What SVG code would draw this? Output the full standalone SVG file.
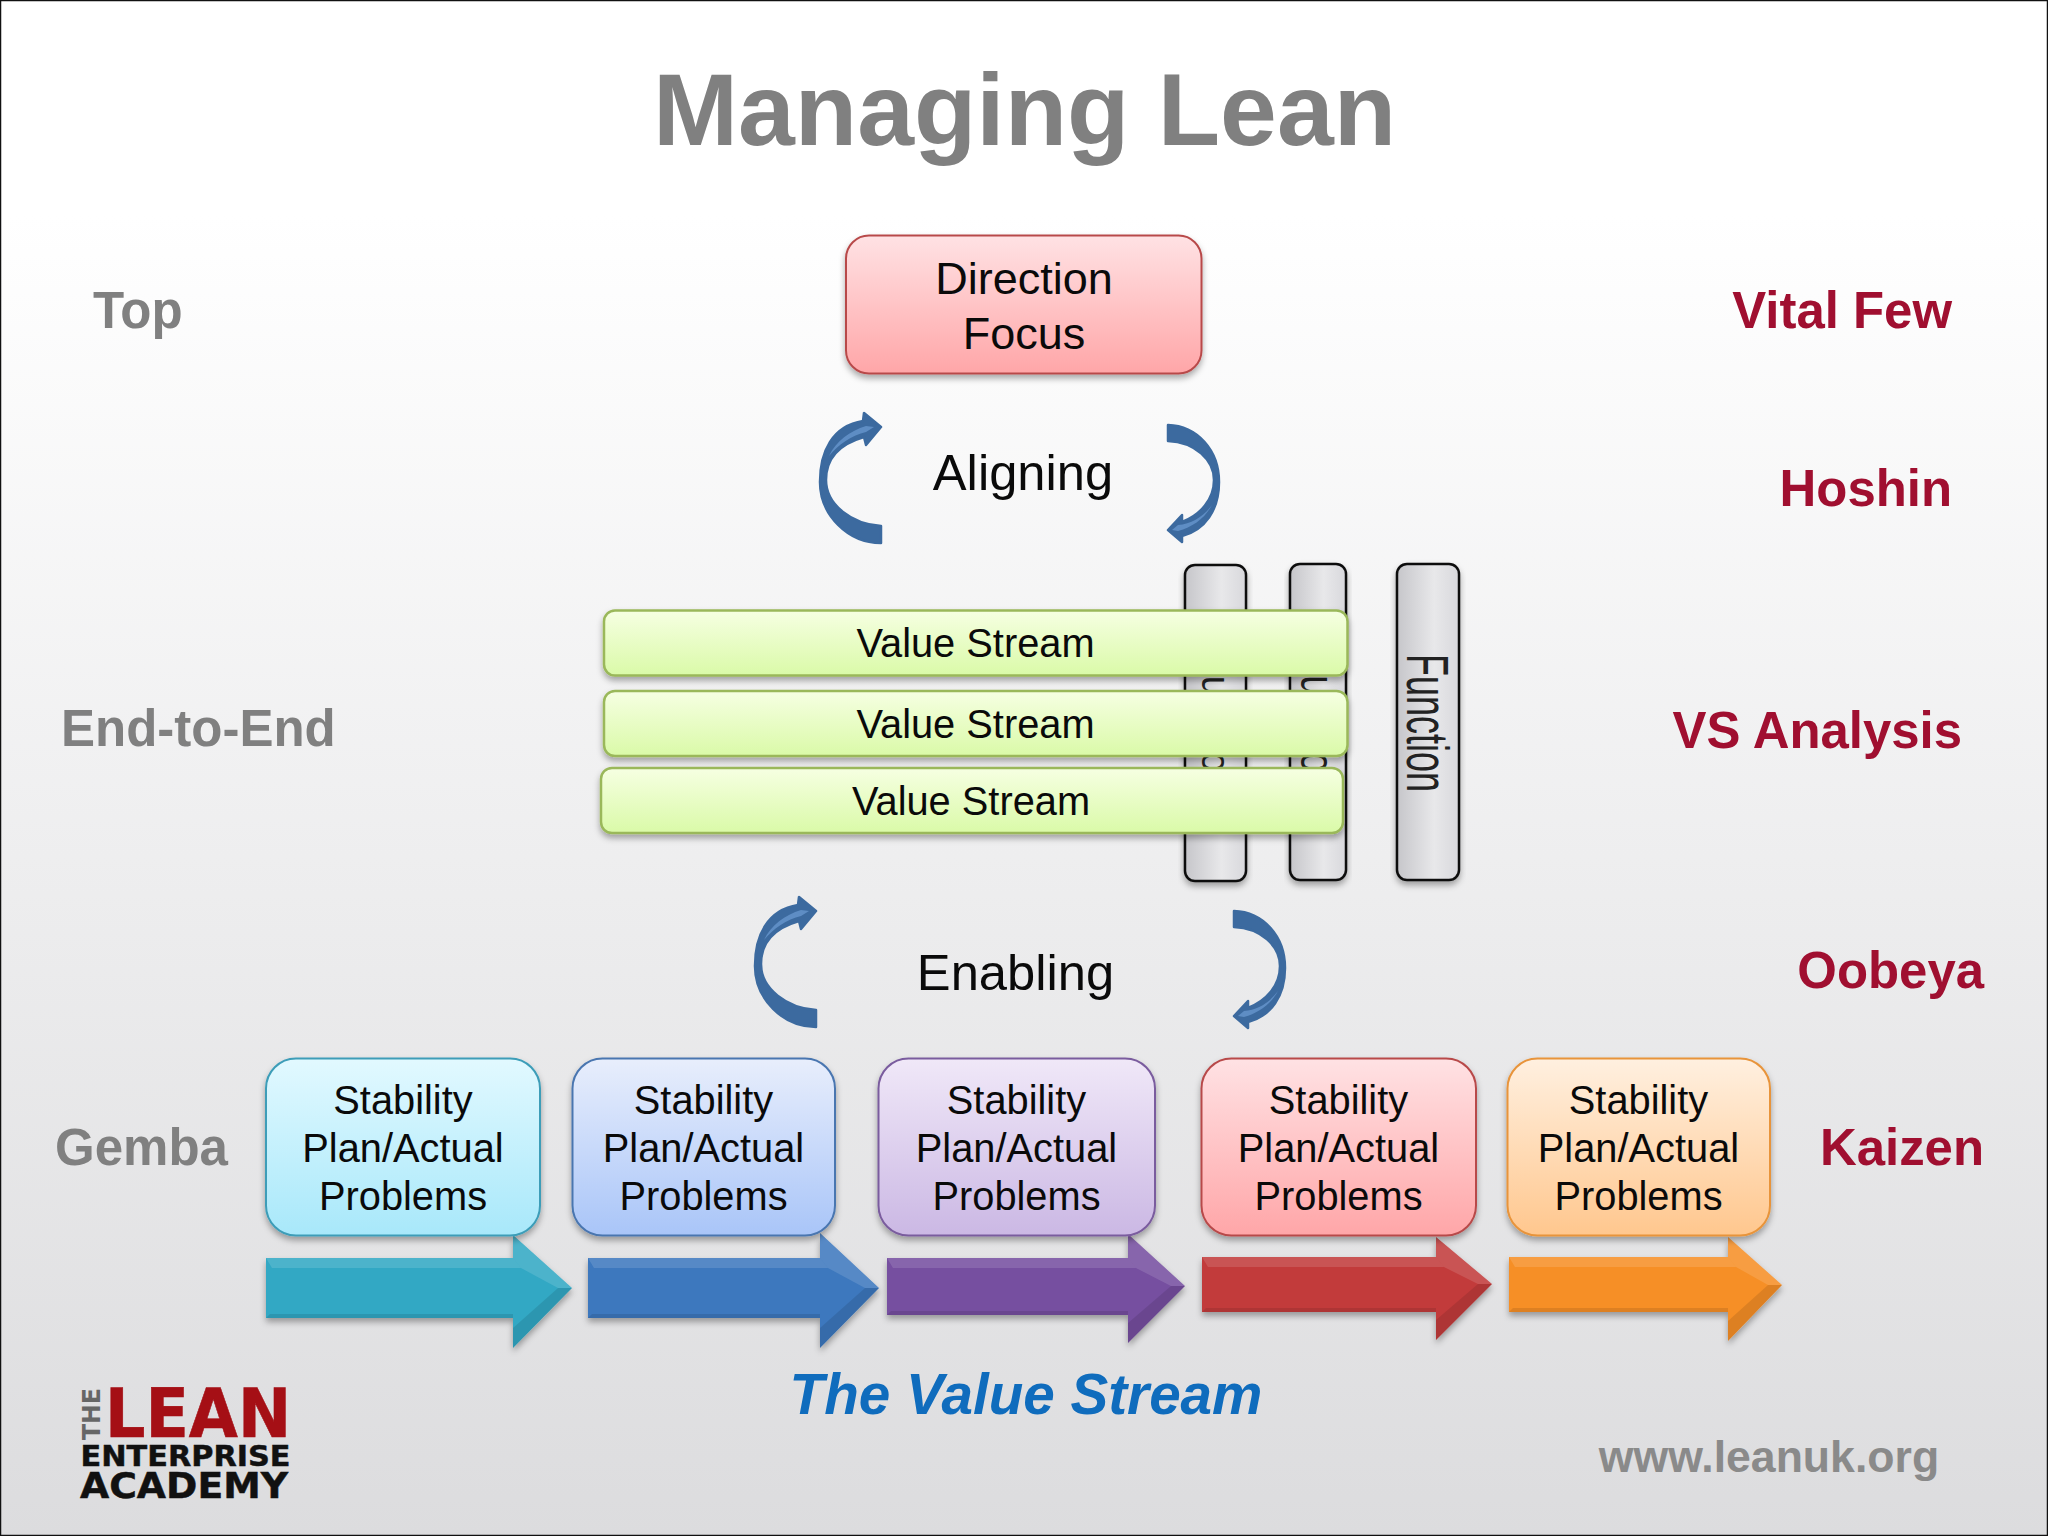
<svg xmlns="http://www.w3.org/2000/svg" width="2048" height="1536" viewBox="0 0 2048 1536">
<style>
text{font-family:"Liberation Sans",Arial,sans-serif}
.lbl{font-size:51px;font-weight:700;fill:#808080}
.rt{font-size:50.9px;font-weight:700;fill:#A00F30;text-anchor:end}
.c{text-anchor:middle;fill:#0a0a0a}
.b44{font-size:45px}
.b50{font-size:50.7px}
.vs{font-size:39.8px}
.st{font-size:39.8px}
.lite{fill:#fff;fill-opacity:.13}
.dark{fill:#000;fill-opacity:.1}
.box{stroke-width:2;filter:url(#sh)}
.fn{fill:#222;text-anchor:middle}
.bar{fill:url(#gGray);stroke:#111;stroke-width:2.5;filter:url(#sh)}
.vsb{fill:url(#gGreen);stroke:#9AB85A;stroke-width:2.5;filter:url(#sh)}
.logo{font-family:"DejaVu Sans","Liberation Sans",sans-serif;font-weight:700}
.arc{fill:#3C6A9F;stroke:#3C6A9F;stroke-width:2.5;stroke-linejoin:round}
.arcl{fill:#5E8DC4}
</style>
<defs>
<linearGradient id="gBg" x1="0" y1="0" x2="0" y2="1"><stop offset=".14" stop-color="#fff"/><stop offset="1" stop-color="#DCDCDE"/></linearGradient>
<linearGradient id="gRed" x1="0" y1="0" x2="0" y2="1"><stop offset="0" stop-color="#FFE2E4"/><stop offset="1" stop-color="#FFA6A8"/></linearGradient>
<linearGradient id="gCyan" x1="0" y1="0" x2="0" y2="1"><stop offset="0" stop-color="#E2F9FF"/><stop offset="1" stop-color="#A8E8FA"/></linearGradient>
<linearGradient id="gBlue" x1="0" y1="0" x2="0" y2="1"><stop offset="0" stop-color="#E8EEFC"/><stop offset="1" stop-color="#A9C5F8"/></linearGradient>
<linearGradient id="gPurple" x1="0" y1="0" x2="0" y2="1"><stop offset="0" stop-color="#F0E8F8"/><stop offset="1" stop-color="#CBB8E4"/></linearGradient>
<linearGradient id="gOrange" x1="0" y1="0" x2="0" y2="1"><stop offset="0" stop-color="#FFF0E0"/><stop offset="1" stop-color="#FFC78E"/></linearGradient>
<linearGradient id="gGreen" x1="0" y1="0" x2="0" y2="1"><stop offset="0" stop-color="#F6FFE2"/><stop offset="1" stop-color="#DAFAA8"/></linearGradient>
<linearGradient id="gGray" x1="0" y1="0" x2="1" y2="0"><stop offset="0" stop-color="#C6C6CA"/><stop offset=".6" stop-color="#E8E8EA"/><stop offset="1" stop-color="#D8D8DC"/></linearGradient>
<filter id="sh" x="-10%" y="-10%" width="120%" height="130%"><feDropShadow dx="0" dy="4" stdDeviation="3" flood-color="#000" flood-opacity=".33"/></filter>
<g id="cw-left">
<path class="arc" d="M881 526C852 524 826 505 826 480C826 462 836 445 864 437L866 445L881 427L864 413L863 421C832 426 820 452 820 482C820 515 848 543 881 543Z"/>
<path class="arcl" d="M829 456C836 441 850 431 866 426L874 427L866 432C852 435 838 445 829 456Z"/>
</g>
<g id="cw-right">
<path class="arc" d="M1168 425C1197 426 1219 450 1219 482C1219 510 1205 530 1182 536L1182 542L1168 530L1182 515L1182 522C1200 515 1214 500 1214 480C1214 460 1195 442 1168 441Z"/>
<path class="arcl" d="M1212 505C1205 518 1193 527 1178 531L1172 530L1178 525C1192 524 1204 516 1212 505Z"/>
</g>
</defs>
<rect id="background" x="0.5" y="0.5" width="2047" height="1535" fill="url(#gBg)" stroke="#111" stroke-width="1.5"/>
<text id="title" x="1024.5" y="145" text-anchor="middle" font-size="102.1" font-weight="700" fill="#808080">Managing Lean</text>

<g id="connectors">
<use href="#cw-left"/>
<use href="#cw-right"/>
<use href="#cw-left" x="-65" y="484"/>
<use href="#cw-right" x="66" y="486"/>
<g id="flow1">
<polygon points="266,1258 513,1258 513,1235 572,1288 513,1348 513,1318 266,1318" fill="#31A8C4" filter="url(#sh)"/>
<polygon class="lite" points="266,1258 513,1258 521,1268 272,1268"/>
<polygon class="lite" points="513,1235 572,1288 558,1288 521,1268 513,1258"/>
<polygon class="dark" points="572,1288 513,1348 513,1328 558,1288"/>
<polygon class="dark" points="266,1318 513,1318 513,1314 270,1314"/>
</g>
<g id="flow2">
<polygon points="588,1258 820,1258 820,1233 879,1288 820,1348 820,1318 588,1318" fill="#3D78BE" filter="url(#sh)"/>
<polygon class="lite" points="588,1258 820,1258 828,1268 594,1268"/>
<polygon class="lite" points="820,1233 879,1288 865,1288 828,1268 820,1258"/>
<polygon class="dark" points="879,1288 820,1348 820,1328 865,1288"/>
<polygon class="dark" points="588,1318 820,1318 820,1314 592,1314"/>
</g>
<g id="flow3">
<polygon points="887,1258 1128,1258 1128,1234 1185,1286 1128,1343 1128,1315 887,1315" fill="#7650A0" filter="url(#sh)"/>
<polygon class="lite" points="887,1258 1128,1258 1136,1268 893,1268"/>
<polygon class="lite" points="1128,1234 1185,1286 1171,1286 1136,1268 1128,1258"/>
<polygon class="dark" points="1185,1286 1128,1343 1128,1323 1171,1286"/>
<polygon class="dark" points="887,1315 1128,1315 1128,1311 891,1311"/>
</g>
<g id="flow4">
<polygon points="1202,1257 1436,1257 1436,1237 1492,1284 1436,1340 1436,1312 1202,1312" fill="#C23B3B" filter="url(#sh)"/>
<polygon class="lite" points="1202,1257 1436,1257 1444,1267 1208,1267"/>
<polygon class="lite" points="1436,1237 1492,1284 1478,1284 1444,1267 1436,1257"/>
<polygon class="dark" points="1492,1284 1436,1340 1436,1320 1478,1284"/>
<polygon class="dark" points="1202,1312 1436,1312 1436,1308 1206,1308"/>
</g>
<g id="flow5">
<polygon points="1509,1257 1728,1257 1728,1237 1782,1285 1728,1341 1728,1312 1509,1312" fill="#F68F28" filter="url(#sh)"/>
<polygon class="lite" points="1509,1257 1728,1257 1736,1267 1515,1267"/>
<polygon class="lite" points="1728,1237 1782,1285 1768,1285 1736,1267 1728,1257"/>
<polygon class="dark" points="1782,1285 1728,1341 1728,1321 1768,1285"/>
<polygon class="dark" points="1509,1312 1728,1312 1728,1308 1513,1308"/>
</g>
</g>

<g id="node-direction">
<rect class="box" x="846" y="235.500" width="355.500" height="138" rx="23" fill="url(#gRed)" stroke="#B84A4A"/>
<text class="c b44" x="1024" y="294">Direction</text>
<text class="c b44" x="1024" y="348.500">Focus</text>
</g>
<text id="label-aligning" class="c b50" x="1023" y="489.500">Aligning</text>
<text id="label-enabling" class="c b50" x="1015.500" y="989.500">Enabling</text>

<g id="node-function1">
<rect class="bar" x="1185" y="565" width="61" height="316" rx="10"/>
<text class="fn" transform="translate(1202,723) rotate(90) scale(.9,1)" font-size="40">Function</text>
</g>
<g id="node-function2">
<rect class="bar" x="1290" y="564" width="56" height="316" rx="10"/>
<text class="fn" transform="translate(1301,723) rotate(90) scale(.74,1)" font-size="49">Function</text>
</g>
<g id="node-function3">
<rect class="bar" x="1397" y="564" width="62" height="316" rx="10"/>
<text class="fn" transform="translate(1407,723) rotate(90) scale(.6,1)" font-size="60">Function</text>
</g>

<g id="node-vs1">
<rect class="vsb" x="604" y="610.500" width="743.500" height="65" rx="11"/>
<text class="c vs" x="975.500" y="656.500">Value Stream</text>
</g>
<g id="node-vs2">
<rect class="vsb" x="604" y="691" width="743.500" height="65" rx="11"/>
<text class="c vs" x="975.500" y="737.500">Value Stream</text>
</g>
<g id="node-vs3">
<rect class="vsb" x="601" y="768" width="742" height="65" rx="11"/>
<text class="c vs" x="971" y="814.500">Value Stream</text>
</g>

<g id="node-gemba1">
<rect class="box" x="266" y="1058.500" width="274" height="177" rx="30" fill="url(#gCyan)" stroke="#3C9DB8"/>
<text class="c st" x="403" y="1114">Stability</text><text class="c st" x="403" y="1162">Plan/Actual</text><text class="c st" x="403" y="1209.500">Problems</text>
</g>
<g id="node-gemba2">
<rect class="box" x="572.500" y="1058.500" width="262.500" height="177" rx="30" fill="url(#gBlue)" stroke="#4A76B0"/>
<text class="c st" x="703.500" y="1114">Stability</text><text class="c st" x="703.500" y="1162">Plan/Actual</text><text class="c st" x="703.500" y="1209.500">Problems</text>
</g>
<g id="node-gemba3">
<rect class="box" x="878.500" y="1058.500" width="276.500" height="177" rx="30" fill="url(#gPurple)" stroke="#7A5C9E"/>
<text class="c st" x="1016.500" y="1114">Stability</text><text class="c st" x="1016.500" y="1162">Plan/Actual</text><text class="c st" x="1016.500" y="1209.500">Problems</text>
</g>
<g id="node-gemba4">
<rect class="box" x="1201.500" y="1058.500" width="274.500" height="177" rx="30" fill="url(#gRed)" stroke="#B84A4A"/>
<text class="c st" x="1338.500" y="1114">Stability</text><text class="c st" x="1338.500" y="1162">Plan/Actual</text><text class="c st" x="1338.500" y="1209.500">Problems</text>
</g>
<g id="node-gemba5">
<rect class="box" x="1507.500" y="1058.500" width="262.500" height="177" rx="30" fill="url(#gOrange)" stroke="#E8943A"/>
<text class="c st" x="1638.500" y="1114">Stability</text><text class="c st" x="1638.500" y="1162">Plan/Actual</text><text class="c st" x="1638.500" y="1209.500">Problems</text>
</g>

<g id="labels-left">
<text class="lbl" x="93" y="328">Top</text>
<text class="lbl" x="61" y="745.500">End-to-End</text>
<text class="lbl" x="55" y="1165">Gemba</text>
</g>
<g id="labels-right">
<text class="rt" x="1952" y="328">Vital Few</text>
<text class="rt" x="1952" y="506">Hoshin</text>
<text class="rt" x="1962" y="747.500">VS Analysis</text>
<text class="rt" x="1984" y="987.500">Oobeya</text>
<text class="rt" x="1984" y="1165">Kaizen</text>
</g>
<text id="value-stream" x="1026" y="1414" text-anchor="middle" font-size="56.600" font-weight="700" font-style="italic" fill="#0F6CBD">The Value Stream</text>
<text id="url" x="1769" y="1472" text-anchor="middle" font-size="44.600" font-weight="700" fill="#8A8A8A">www.leanuk.org</text>
<g id="logo">
<text class="logo" x="105" y="1437" font-size="68" fill="#A50F15" stroke="#A50F15" stroke-width=".6" textLength="186" lengthAdjust="spacingAndGlyphs">LEAN</text>
<text class="logo" x="80.500" y="1466" font-size="29" fill="#111" stroke="#111" stroke-width=".5" textLength="210" lengthAdjust="spacingAndGlyphs">ENTERPRISE</text>
<text class="logo" x="80" y="1498" font-size="36" fill="#111" stroke="#111" stroke-width=".5" textLength="208" lengthAdjust="spacingAndGlyphs">ACADEMY</text>
<text class="logo" transform="translate(100,1440) rotate(-90)" font-size="25" fill="#666" textLength="52" lengthAdjust="spacingAndGlyphs">THE</text>
</g>
</svg>
